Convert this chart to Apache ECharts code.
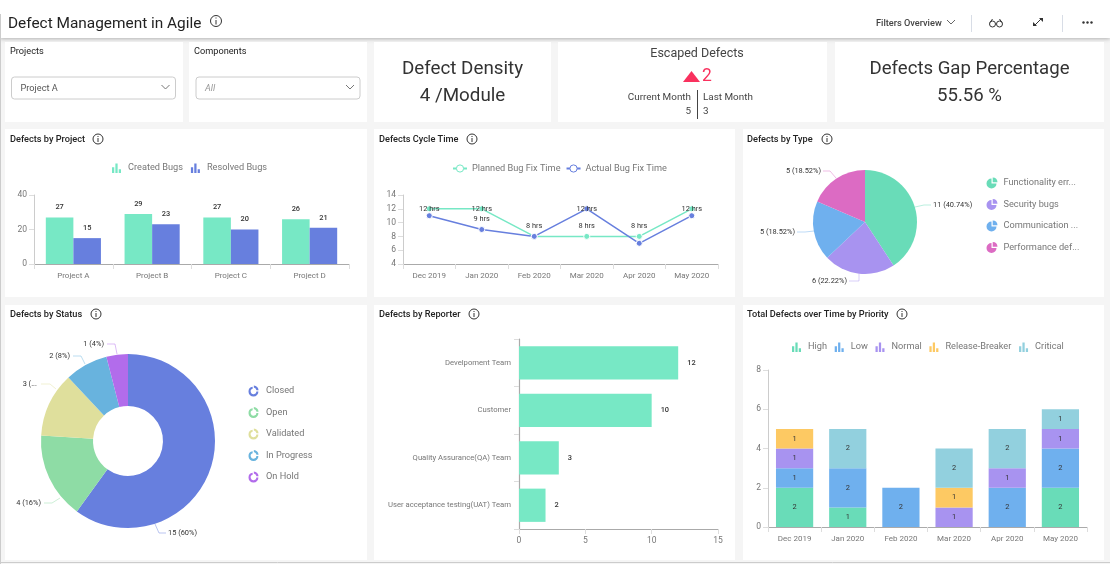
<!DOCTYPE html>
<html>
<head>
<meta charset="utf-8">
<title>Defect Management in Agile</title>
<style>
html,body{margin:0;padding:0;background:#f5f5f5;}
#main{width:1110px;height:564px;}
</style>
<script src="https://cdn.jsdelivr.net/npm/echarts@6/dist/echarts.min.js"></script>
</head>
<body>
<div id="main"></div>
<script>
// data
var projects = ['Project A', 'Project B', 'Project C', 'Project D'];
var createdBugs = [27, 29, 27, 26];
var resolvedBugs = [15, 23, 20, 21];

var months = ['Dec 2019', 'Jan 2020', 'Feb 2020', 'Mar 2020', 'Apr 2020', 'May 2020'];
var plannedFix = [12, 12, 8, 8, 8, 12];
var actualFix = [11, 9, 8, 12, 7, 11];
var actualLabelShown = [false, true, false, true, false, false];

var typeNames = ['Functionality errors', 'Security bugs', 'Communication errors', 'Performance defects'];
var typeValues = [11, 6, 5, 5];

var statusNames = ['Closed', 'Open', 'Validated', 'In Progress', 'On Hold'];
var statusValues = [15, 4, 3, 2, 1];

var reporters = ['Develpoment Team', 'Customer', 'Quality Assurance(QA) Team', 'User acceptance testing(UAT) Team'];
var reporterValues = [12, 10, 3, 2];

var priorityHigh = [2, 1, null, null, null, 2];
var priorityLow = [1, 2, 2, null, 2, 2];
var priorityNormal = [1, null, null, 1, 1, 1];
var priorityBreaker = [1, null, null, 1, null, null];
var priorityCritical = [null, 2, null, 2, 2, 1];

// where the pie callouts go
var typeCallouts = [
    {x: 933, y: 205, align: 'left', line: [[915, 207], [924, 205], [931, 205]]},
    {x: 847, y: 281, align: 'right', line: [[859, 274], [859, 281], [849, 281]]},
    {x: 795, y: 232, align: 'right', line: [[814, 231], [805, 232], [797, 232]]},
    {x: 821, y: 171, align: 'right', line: [[836, 178], [830, 171], [823, 171]]}
];
var statusCallouts = [
    {x: 168, y: 533, align: 'left', line: [[155, 524], [159, 533], [166, 533]]},
    {x: 41, y: 503, align: 'right', line: [[60, 498], [52, 503], [44, 503]]},
    {x: 37, y: 384, align: 'right', line: [[56, 389], [50, 384], [41, 384]]},
    {x: 70, y: 356, align: 'right', line: [[85, 364], [81, 356], [73, 356]]},
    {x: 104, y: 344, align: 'right', line: [[117, 354], [115, 344], [107, 344]]}
];

// legend icons
var barIcon = 'path://M0 4h2.4v6H0zM3.6 0H6v10H3.6zM7.2 6h2.4v4H7.2z';
var pieIcon = 'path://M5 1A5 5 0 1 0 10 6H5zM6.2 0A5 5 0 0 1 11 4.8H6.2z';
var donutIcon = 'path://M6.2 0A5.5 5.5 0 0 1 11 4.8H8.9A3.4 3.4 0 0 0 6.2 2.1zM5 1.2V3.2A2.9 2.9 0 1 0 8.8 6H10.8A5 5 0 1 1 5 1.2z';

var FONT = 'Roboto';
var green = '#77e8c5', blue = '#677fde';

function card(x, y, w, h) {
    return {type: 'rect', z: 0, shape: {x: x, y: y, width: w, height: h}, style: {fill: '#fff'}};
}
function txt(x, y, text, size, color, align, extra) {
    var s = {x: x, y: y + 1, text: text, fontFamily: FONT, fontSize: size, fill: color, align: align || 'left', verticalAlign: 'middle'};
    for (var k in extra) s[k] = extra[k];
    return {type: 'text', z: 1, style: s};
}
function seg(x1, y1, x2, y2, color, w) {
    return {type: 'line', z: 1, shape: {x1: x1, y1: y1, x2: x2, y2: y2}, style: {stroke: color, lineWidth: w || 1}};
}
function info(x, y, r) {
    return [
        {type: 'circle', z: 1, shape: {cx: x, cy: y, r: r}, style: {fill: 'none', stroke: '#333', lineWidth: 1}},
        seg(x, y - 1, x, y + r - 2, '#333', 1),
        seg(x, y - r + 2, x, y - r + 3, '#333', 1)
    ];
}
function chevron(x, y, color) {
    return {type: 'polyline', z: 1, shape: {points: [[x - 4, y - 2], [x, y + 2], [x + 4, y - 2]]}, style: {fill: 'none', stroke: color, lineWidth: 1}};
}
function dropdown(x, w, label, italic) {
    return [
        {type: 'rect', z: 1, shape: {x: x, y: 77, width: w, height: 22, r: 3}, style: {fill: '#fff', stroke: '#ccc', lineWidth: 1}},
        txt(x + 9, 87.5, label, 9.2, italic ? '#999' : '#555', 'left', italic ? {fontStyle: 'italic'} : {}),
        chevron(x + w - 10, 87, '#777')
    ];
}

// page chrome
var graphics = [
    {type: 'rect', z: 0, shape: {x: 0, y: 0, width: 1110, height: 38}, style: {fill: '#fff', shadowBlur: 4, shadowColor: 'rgba(0,0,0,0.28)', shadowOffsetY: 1}},
    seg(0.5, 14, 0.5, 564, '#ccc', 1),
    seg(0, 562.5, 1110, 562.5, '#ccc', 1),
    card(5, 42, 178, 80), card(189, 42, 178, 80), card(374, 42, 177, 80), card(558, 42, 269, 80), card(835, 42, 269, 80),
    card(5, 129, 362, 168), card(374, 129, 361, 168), card(743, 129, 361, 168),
    card(5, 305, 362, 255), card(374, 305, 361, 255), card(743, 305, 361, 255),
    txt(8, 23, 'Defect Management in Agile', 15.4, '#222'),
    txt(876, 23, 'Filters Overview', 9.2, '#444', 'left', {fontWeight: 500}),
    chevron(951, 22, '#666'),
    seg(971.5, 15, 971.5, 32, '#d8dde6'), seg(1062.5, 15, 1062.5, 32, '#d8dde6'),
    // glasses
    {type: 'circle', z: 1, shape: {cx: 992.5, cy: 24, r: 3}, style: {fill: 'none', stroke: '#333', lineWidth: 1}},
    {type: 'circle', z: 1, shape: {cx: 999.5, cy: 24, r: 3}, style: {fill: 'none', stroke: '#333', lineWidth: 1}},
    {type: 'polyline', z: 1, shape: {points: [[990, 22.5], [992.5, 19]]}, style: {fill: 'none', stroke: '#333'}},
    {type: 'polyline', z: 1, shape: {points: [[1002, 22.5], [999.5, 19]]}, style: {fill: 'none', stroke: '#333'}},
    // expand
    seg(1034, 26, 1042, 18, '#333', 1),
    {type: 'polygon', z: 1, shape: {points: [[1039, 18], [1043, 18], [1043, 22]]}, style: {fill: '#333'}},
    {type: 'polygon', z: 1, shape: {points: [[1033, 22], [1033, 26], [1037, 26]]}, style: {fill: '#333'}},
    // more
    {type: 'circle', z: 1, shape: {cx: 1083.5, cy: 22.5, r: 1.2}, style: {fill: '#333'}},
    {type: 'circle', z: 1, shape: {cx: 1087.5, cy: 22.5, r: 1.2}, style: {fill: '#333'}},
    {type: 'circle', z: 1, shape: {cx: 1091.5, cy: 22.5, r: 1.2}, style: {fill: '#333'}},
    // filters
    txt(10, 51, 'Projects', 9.2, '#222'),
    txt(194, 51, 'Components', 9.2, '#222'),
    // kpis
    txt(462.5, 68, 'Defect Density', 18.8, '#333', 'center'),
    txt(462.5, 95, '4 /Module', 18.8, '#333', 'center'),
    txt(697, 53, 'Escaped Defects', 12.5, '#444', 'center'),
    {type: 'polygon', z: 1, shape: {points: [[683, 82], [700, 82], [691.5, 71]]}, style: {fill: '#f9315e'}},
    txt(702, 75.5, '2', 17.5, '#f9315e'),
    txt(691, 97, 'Current Month', 9.9, '#444', 'right'),
    txt(703, 97, 'Last Month', 9.9, '#444'),
    txt(691, 111, '5', 9.9, '#444', 'right'),
    txt(703, 111, '3', 9.9, '#444'),
    seg(697.5, 90, 697.5, 119, '#444'),
    txt(969.5, 68, 'Defects Gap Percentage', 18.6, '#333', 'center'),
    txt(969.5, 95, '55.56 %', 18.6, '#333', 'center'),
    // panel titles
    txt(10, 139, 'Defects by Project', 9.2, '#222', 'left', {fontWeight: 500}),
    txt(379, 139, 'Defects Cycle Time', 9.2, '#222', 'left', {fontWeight: 500}),
    txt(747, 139, 'Defects by Type', 9.2, '#222', 'left', {fontWeight: 500}),
    txt(10, 314, 'Defects by Status', 9.2, '#222', 'left', {fontWeight: 500}),
    txt(379, 314, 'Defects by Reporter', 9.2, '#222', 'left', {fontWeight: 500}),
    txt(747, 314, 'Total Defects over Time by Priority', 9.2, '#222', 'left', {fontWeight: 500})
];
graphics = graphics.concat(
    dropdown(11.5, 164, 'Project A', false), dropdown(196, 164, 'All', true),
    info(216, 21, 5.5), info(98, 139, 5), info(472, 139, 5), info(827, 139, 5),
    info(96, 314, 5), info(474, 314, 5), info(902, 314, 5)
);

function catAxis(idx, data, extra) {
    var a = {
        type: 'category', gridIndex: idx, data: data,
        axisLine: {lineStyle: {color: '#aaa', width: 1.2}},
        axisTick: {show: true, alignWithLabel: false, lineStyle: {color: '#ddd'}},
        axisLabel: {color: '#777', fontFamily: FONT, fontSize: 8, margin: 8, interval: 0},
        splitLine: {show: false}
    };
    for (var k in extra) a[k] = extra[k];
    return a;
}
function valAxis(idx, min, max, step, extra) {
    var a = {
        type: 'value', gridIndex: idx, min: min, max: max, interval: step,
        axisLine: {show: true, lineStyle: {color: '#ccc'}},
        axisTick: {show: true, lineStyle: {color: '#ddd'}},
        axisLabel: {color: '#777', fontFamily: FONT, fontSize: 8.5, margin: 7},
        splitLine: {show: false}
    };
    for (var k in extra) a[k] = extra[k];
    return a;
}
function gridAt(l, t, r, b) {
    return {left: l, top: t, width: r - l, height: b - t, show: true, borderColor: '#f0f0f0', borderWidth: 1, backgroundColor: 'transparent'};
}
function legendAt(left, top, names, icon, w, h, gap, extra) {
    var l = {
        left: left, top: top, data: names, itemWidth: w, itemHeight: h, itemGap: gap,
        textStyle: {color: '#777', fontFamily: FONT, fontSize: 9.2, padding: [0, 0, 0, 2]}
    };
    if (icon) l.icon = icon;
    for (var k in extra) l[k] = extra[k];
    return l;
}
var LABEL_SIZE = 7.4;

function stacked(name, values, color) {
    return {
        name: name, type: 'bar', stack: 'p', xAxisIndex: 3, yAxisIndex: 3, barWidth: '70%', data: values,
        itemStyle: {color: color},
        label: {show: true, position: 'inside', color: '#333', fontFamily: FONT, fontSize: LABEL_SIZE}
    };
}
function calloutLayout(spots) {
    return function (params) {
        var s = spots[params.dataIndex];
        return {x: s.x, y: s.y, align: s.align, verticalAlign: 'middle', labelLinePoints: s.line};
    };
}
var pieLabel = {color: '#333', fontFamily: FONT, fontSize: LABEL_SIZE, formatter: '{c} ({d}%)', overflow: 'none'};

var typeColors = ['#69dcb8', '#a893f0', '#6fb0ee', '#dc6bc3'];
var statusColors = ['#677fde', '#8edca5', '#dfdf9c', '#68b3de', '#b26ceb'];

var option = {
    animation: false,
    backgroundColor: '#f5f5f5',
    textStyle: {fontFamily: FONT},
    graphic: {elements: graphics},
    grid: [gridAt(34, 195, 349, 264), gridAt(403, 195, 718, 264), gridAt(519, 339, 718, 529), gridAt(768, 370, 1087, 527)],
    xAxis: [
        catAxis(0, projects),
        catAxis(1, months),
        valAxis(2, 0, 15, 5, {axisLine: {show: true, lineStyle: {color: '#aaa', width: 1.2}}}),
        catAxis(3, months)
    ],
    yAxis: [
        valAxis(0, 0, 40, 20),
        valAxis(1, 4, 14, 2),
        catAxis(2, reporters, {inverse: true, axisLabel: {color: '#777', fontFamily: FONT, fontSize: 7.7, margin: 8, interval: 0}}),
        valAxis(3, 0, 8, 2)
    ],
    legend: [
        legendAt(107, 158.5, ['Created Bugs', 'Resolved Bugs'], barIcon, 9, 10, 8),
        legendAt(447, 159, [
            {name: 'Planned Bug Fix Time', itemStyle: {color: '#fff', borderColor: green, borderWidth: 1}},
            {name: 'Actual Bug Fix Time', itemStyle: {color: '#fff', borderColor: blue, borderWidth: 1}}
        ], null, 14, 9, 5, {textStyle: {color: '#777', fontFamily: FONT, fontSize: 9.2}}),
        legendAt(981.5, 172.5, typeNames, pieIcon, 11, 11, 10.5, {
            orient: 'vertical',
            textStyle: {color: '#777', fontFamily: FONT, fontSize: 9.2, padding: [0, 0, 0, 1], width: 78, overflow: 'truncate', ellipsis: '...'}
        }),
        legendAt(243.5, 380.5, statusNames, donutIcon, 11, 11, 10.5, {orient: 'vertical'}),
        legendAt(787, 337.5, ['High', 'Low', 'Normal', 'Release-Breaker', 'Critical'], barIcon, 9, 10, 7.7)
    ],
    series: [
        {
            name: 'Created Bugs', type: 'bar', barWidth: '35%', barGap: 0, data: createdBugs,
            itemStyle: {color: green},
            label: {show: true, position: 'top', distance: 6.5, color: '#333', fontFamily: FONT, fontSize: LABEL_SIZE, fontWeight: 500}
        },
        {
            name: 'Resolved Bugs', type: 'bar', barWidth: '35%', barGap: 0, data: resolvedBugs,
            itemStyle: {color: blue},
            label: {show: true, position: 'top', distance: 6.5, color: '#333', fontFamily: FONT, fontSize: LABEL_SIZE, fontWeight: 500}
        },
        {
            name: 'Planned Bug Fix Time', type: 'line', xAxisIndex: 1, yAxisIndex: 1, symbol: 'circle', symbolSize: 6,
            data: plannedFix.map(function (v) {
                // the 12 hrs labels sit right on the point, the others above it
                return v === 12 ? {value: v, label: {position: 'inside'}} : v;
            }),
            lineStyle: {color: green, width: 1.5},
            itemStyle: {color: green, borderColor: '#fff', borderWidth: 1},
            label: {show: true, position: 'top', distance: 3, formatter: '{c} hrs', color: '#333', fontFamily: FONT, fontSize: LABEL_SIZE}
        },
        {
            name: 'Actual Bug Fix Time', type: 'line', xAxisIndex: 1, yAxisIndex: 1, symbol: 'circle', symbolSize: 6,
            data: actualFix.map(function (v, i) {
                if (!actualLabelShown[i]) return {value: v, label: {show: false}};
                return v === 12 ? {value: v, label: {position: 'inside'}} : v;
            }),
            lineStyle: {color: blue, width: 1.5},
            itemStyle: {color: blue, borderColor: '#fff', borderWidth: 1},
            label: {show: true, position: 'top', distance: 3, formatter: '{c} hrs', color: '#333', fontFamily: FONT, fontSize: LABEL_SIZE}
        },
        {
            name: 'Defects by Type', type: 'pie', center: [865, 222], radius: [0, 52], startAngle: 90,
            data: typeNames.map(function (n, i) { return {name: n, value: typeValues[i], itemStyle: {color: typeColors[i]}}; }),
            label: pieLabel,
            labelLine: {lineStyle: {width: 1, opacity: 0.45}},
            labelLayout: calloutLayout(typeCallouts)
        },
        {
            name: 'Defects by Status', type: 'pie', center: [128, 441], radius: [35, 87], startAngle: 90,
            data: statusNames.map(function (n, i) {
                var item = {name: n, value: statusValues[i], itemStyle: {color: statusColors[i]}};
                // this one is cut short in the dashboard
                if (n === 'Validated') item.label = {width: 17, overflow: 'truncate', ellipsis: '...'};
                return item;
            }),
            label: pieLabel,
            labelLine: {lineStyle: {width: 1, opacity: 0.45}},
            labelLayout: calloutLayout(statusCallouts)
        },
        {
            name: 'Defects by Reporter', type: 'bar', xAxisIndex: 2, yAxisIndex: 2, barWidth: '70%', data: reporterValues,
            itemStyle: {color: green},
            label: {show: true, position: 'right', distance: 9, color: '#333', fontFamily: FONT, fontSize: LABEL_SIZE, fontWeight: 500}
        },
        stacked('High', priorityHigh, '#69dcb8'),
        stacked('Low', priorityLow, '#6fb0ee'),
        stacked('Normal', priorityNormal, '#a893f0'),
        stacked('Release-Breaker', priorityBreaker, '#fdc963'),
        stacked('Critical', priorityCritical, '#92d0de')
    ]
};

var chart = echarts.init(document.getElementById('main'), null, {renderer: 'canvas'});
chart.setOption(option);
</script>
</body>
</html>
